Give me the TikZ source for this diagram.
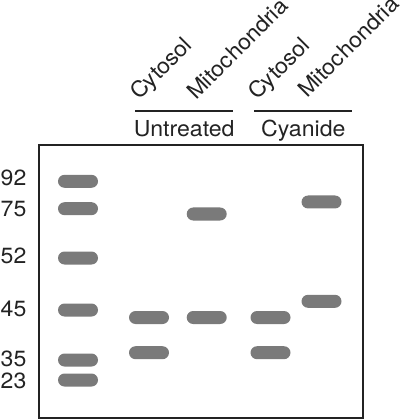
\documentclass[tikz,border=0pt]{standalone}
\usepackage{fontspec}
\setmainfont[FakeStretch=1.05]{TeX Gyre Heros}
\usepackage{tikz}
\usetikzlibrary{positioning}
\definecolor{bandgray}{RGB}{122,122,122}
\definecolor{inkgray}{RGB}{35,35,35}
\tikzset{
    gel/.style={x=1pt, y=-1pt, font=\fontsize{22}{26}\selectfont, text=inkgray},
    gelbox/.style={draw=inkgray, line width=1.6pt},
    band/.style={fill=bandgray, rounded corners=6.5pt, minimum width=40pt, minimum height=13pt, inner sep=0pt},
    marker/.style={anchor=base west, inner sep=0pt},
    lanelabel/.style={anchor=base west, inner sep=0pt, rotate=45},
    grouplabel/.style={anchor=base, inner sep=0pt},
    % bar over each treatment group
    groupbar/.style={draw=inkgray, line width=2.5pt},
}
\begin{document}
\begin{tikzpicture}[gel]
    \useasboundingbox (0,0) rectangle (413,419);
    \draw[gelbox] (39,145) rectangle (363,418);

    % size markers
    \node[marker] (m92) at (0.5,186) {92};
    \node[marker] (m75) at (0.5,216) {75};
    \node[marker] (m52) at (0.5,263) {52};
    \node[marker] (m45) at (0.5,316) {45};
    \node[marker] (m35) at (0.5,366) {35};
    \node[marker] (m23) at (0.5,388) {23};

    % ladder
    \node[band] (l92) at (78,181.3) {};
    \node[band] (l75) at (78,208.7) {};
    \node[band] (l52) at (78,258)   {};
    \node[band] (l45) at (78,310)   {};
    \node[band] (l35) at (78,360)   {};
    \node[band] (l23) at (78,380)   {};

    % untreated
    \node[band] (uca) at (149,317.5)   {};
    \node[band] (ucb) at (149,352.7)   {};
    \node[band] (uma) at (206.7,214)   {};
    \node[band] (umb) at (206.7,317.5) {};

    % cyanide
    \node[band] (cca) at (270.5,317.5) {};
    \node[band] (ccb) at (270.5,352.7) {};
    \node[band] (cma) at (321.5,202)   {};
    \node[band] (cmb) at (321.5,301.3) {};

    % lane names
    \node[lanelabel] (ucyt) at (139,101) {Cytosol};
    \node[lanelabel] (umit) at (196,101) {Mitochondria};
    \node[lanelabel] (ccyt) at (257,101) {Cytosol};
    \node[lanelabel] (cmit) at (307,99)  {Mitochondria};

    \coordinate (ubarl) at (135,111);
    \coordinate (ubarr) at (232.7,111);
    \coordinate (cbarl) at (254,111);
    \coordinate (cbarr) at (351.7,111);
    \draw[groupbar] (ubarl) -- (ubarr);
    \draw[groupbar] (cbarl) -- (cbarr);

    \node[grouplabel] (untr) at (184.2,136.7) {Untreated};
    \node[grouplabel] (cyan) at (303.3,136.7) {Cyanide};
\end{tikzpicture}
\end{document}
